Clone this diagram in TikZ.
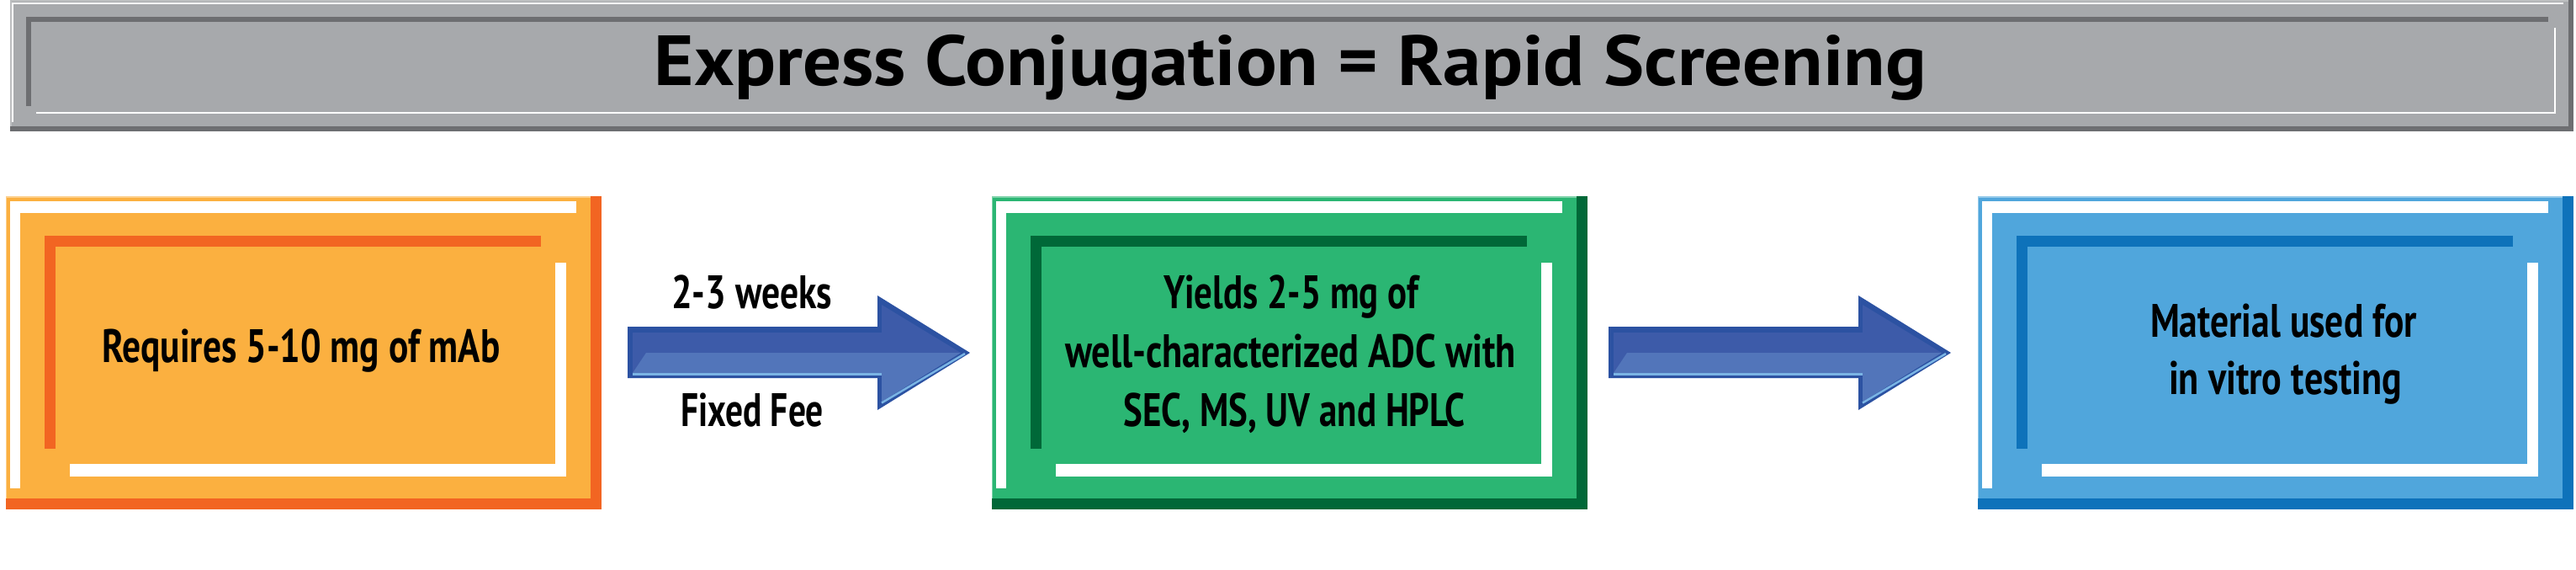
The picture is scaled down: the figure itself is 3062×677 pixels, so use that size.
\documentclass[tikz,border=0pt]{standalone}
\usepackage{graphicx}
\usepackage{fontspec}
\setmainfont{PT Sans}
\definecolor{tgray}{HTML}{A7A9AC}
\definecolor{tdark}{HTML}{6D6E71}
\definecolor{trim}{HTML}{BCBEC0}
\definecolor{ofill}{HTML}{FBB040}
\definecolor{odark}{HTML}{F26522}
\definecolor{gfill}{HTML}{2BB673}
\definecolor{gdark}{HTML}{006838}
\definecolor{bfill}{HTML}{50A6DC}
\definecolor{bdark}{HTML}{0E72BA}
\definecolor{aborder}{HTML}{2C52A2}
\definecolor{atop}{HTML}{3D5BA9}
\definecolor{abot}{HTML}{5275BA}
\definecolor{ahl}{HTML}{7AB4E4}
\newcommand\fitw[2]{\resizebox{#1}{\height}{#2}}
\newcommand\bodyfnt{\fontsize{55.7}{60}\selectfont\bfseries}
\newcommand\cardbox[4]{%
  \node[anchor=north west, fill=#2, minimum width=707.5pt, minimum height=371.7pt, inner sep=0pt, outer sep=0pt] (#4) at (#1,233.3) {};
  \draw[#2!60!white, line width=1.2pt] ({#1+0.6},605) -- ({#1+0.6},233.9) -- ({#1+695},233.9);
  \fill[#3] ({#1+695},233.3) rectangle ({#1+707.5},605);
  \fill[#3] (#1,592.3) rectangle ({#1+707.5},605);
  \fill[white] ({#1+4.5},239) rectangle ({#1+678},253.3);
  \fill[white] ({#1+4.5},239) rectangle ({#1+17},580);
  \fill[#3] ({#1+46},280) rectangle ({#1+636},292.7);
  \fill[#3] ({#1+46},280) rectangle ({#1+59},533.3);
  \fill[white] ({#1+76},551) rectangle ({#1+666},565.7);
  \fill[white] ({#1+653},311.7) rectangle ({#1+666},565.7);
}
\newcommand\blockarrow[2]{%
  \coordinate (#2) at (#1,419);
  \fill[aborder] (#1,388) -- ({#1+297},388) -- ({#1+297},351) -- ({#1+407},419) -- ({#1+297},487) -- ({#1+297},449) -- (#1,449) -- cycle;
  \fill[atop] ({#1+6},395) -- ({#1+302},395) -- ({#1+302},362) -- ({#1+396},419) -- ({#1+302},477) -- ({#1+302},443) -- ({#1+6},443) -- cycle;
  \fill[abot] ({#1+22},419) -- ({#1+396},419) -- ({#1+302},477) -- ({#1+302},443) -- ({#1+6},443) -- cycle;
  \draw[ahl, line width=3pt] ({#1+6},444.5) -- ({#1+302},444.5);
  \draw[ahl, line width=2.5pt] ({#1+302},478.5) -- ({#1+401},420);
}
\tikzset{txt/.style={anchor=base, inner sep=0pt, outer sep=0pt, font=\bodyfnt, text=black}}
\begin{document}
\begin{tikzpicture}[x=1pt, y=-1pt]
\useasboundingbox (0,0) rectangle (3062,677);
\fill[white] (0,0) rectangle (3062,677);
% title bar
\fill[tdark] (12,0) rectangle (3059.3,156);
\fill[trim] (12,0) rectangle (3053.3,150);
\fill[tgray] (13.5,2) rectangle (3053.3,150);
\fill[white] (14,3.3) rectangle (3047,4.8);
\fill[white] (14,3.3) rectangle (15.5,145);
\fill[tdark] (31,20) rectangle (3029,25.7);
\fill[tdark] (31,20) rectangle (36.7,126);
\fill[white] (43.3,133.3) rectangle (3038,135.3);
\fill[white] (3036.3,33.3) rectangle (3038,135.3);
\node[anchor=base, inner sep=0pt] (title) at (1534,101.7) {\fitw{1512pt}{\fontsize{84.3}{90}\selectfont\bfseries Express Conjugation = Rapid Screening}};
% boxes
\cardbox{7}{ofill}{odark}{orangebox}
\cardbox{1179}{gfill}{gdark}{greenbox}
\cardbox{2351}{bfill}{bdark}{bluebox}
% arrows
\blockarrow{746}{arrowA}
\blockarrow{1912}{arrowB}
% texts
\node[txt] (r1) at (358,430) {\fitw{473pt}{Requires 5-10 mg of mAb}};
\node[txt] (w1) at (893.5,366.7) {\fitw{191pt}{2-3 weeks}};
\node[txt] (f1) at (894,506.7) {\fitw{170pt}{Fixed Fee}};
\node[txt] (y1) at (1534.5,366.7) {\fitw{303pt}{Yields 2-5 mg of}};
\node[txt] (y2) at (1534,436.7) {\fitw{535.6pt}{well-characterized ADC with}};
\node[txt] (y3) at (1538.5,506.7) {\fitw{406pt}{SEC, MS, UV and HPLC}};
\node[txt] (m1) at (2714.5,400.7) {\fitw{317pt}{Material used for}};
\node[txt] (m2) at (2716.5,468.3) {\fitw{277pt}{in vitro testing}};
\end{tikzpicture}
\end{document}
